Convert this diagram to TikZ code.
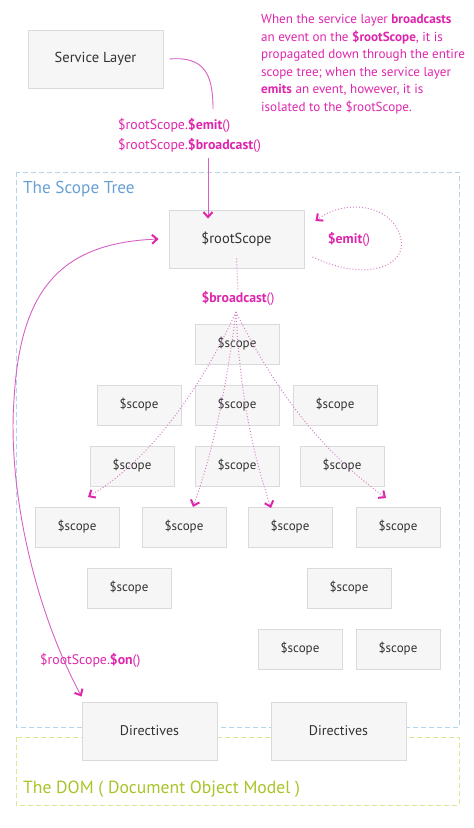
\documentclass[tikz,border=0pt]{standalone}
\usepackage{fontspec}
\setmainfont{PT Sans}
\usetikzlibrary{arrows.meta}
\definecolor{mag}{RGB}{222,38,172}
\definecolor{magline}{RGB}{214,96,196}
\definecolor{magdot}{RGB}{214,130,200}
\definecolor{boxfill}{RGB}{246,246,246}
\definecolor{boxline}{RGB}{218,218,218}
\definecolor{boxtext}{RGB}{50,50,50}
\definecolor{treeline}{RGB}{180,212,234}
\definecolor{treetext}{RGB}{104,160,212}
\definecolor{domline}{RGB}{222,230,150}
\definecolor{domtext}{RGB}{168,196,40}
\begin{document}
\begin{tikzpicture}[x=1pt,y=-1pt,
  box/.style={draw=boxline, fill=boxfill, line width=0.9pt, minimum width=84pt, minimum height=40pt, inner sep=0pt, text=boxtext, font=\fontsize{13}{15}\selectfont},
  bigbox/.style={box, minimum width=135pt, minimum height=58pt, font=\fontsize{14.5}{16}\selectfont},
  magtext/.style={text=mag, inner sep=0pt, font=\fontsize{13.8}{20}\selectfont},
  frame/.style={dashed, dash pattern=on 5pt off 3pt, line width=0.9pt},
  magtip/.style={-{Straight Barb[length=5pt,width=9pt,line width=2pt,color=mag]}},
  solidarrow/.style={draw=magline, line width=0.9pt, magtip},
  dotarrow/.style={draw=magdot, line width=1pt, dotted, magtip}]
\useasboundingbox (0,0) rectangle (474,828);
% frames
\draw[frame, draw=treeline] (16,172) rectangle (459,727);
\draw[frame, draw=domline] (16,737) rectangle (459,805);
\node[anchor=west, text=treetext, inner sep=0pt, font=\fontsize{17.2}{19}\selectfont] (treelbl) at (23,189) {The Scope Tree};
\node[anchor=west, text=domtext, inner sep=0pt, font=\fontsize{17.6}{19}\selectfont] (domlbl) at (23,789) {The DOM ( Document Object Model )};
% nodes
\node[bigbox] (svc) at (95.5,59) {Service Layer};
\node[bigbox] (root) at (236.5,239) {\$rootScope};
\node[box] (s0) at (237,344) {\$scope};
\node[box] (s1a) at (139,405) {\$scope};
\node[box] (s1b) at (237,405) {\$scope};
\node[box] (s1c) at (335,405) {\$scope};
\node[box] (s2a) at (132,466) {\$scope};
\node[box] (s2b) at (237,466) {\$scope};
\node[box] (s2c) at (342,466) {\$scope};
\node[box] (s3a) at (77,527) {\$scope};
\node[box] (s3b) at (184,527) {\$scope};
\node[box] (s3c) at (290,527) {\$scope};
\node[box] (s3d) at (398,527) {\$scope};
\node[box] (s4a) at (129,588) {\$scope};
\node[box] (s4b) at (349,588) {\$scope};
\node[box] (s5a) at (300,649) {\$scope};
\node[box] (s5b) at (398,649) {\$scope};
\node[bigbox, font=\fontsize{14}{16}\selectfont] (dir1) at (149.5,731) {Directives};
\node[bigbox, font=\fontsize{14}{16}\selectfont] (dir2) at (338.5,731) {Directives};
% texts
\node[magtext, anchor=north west, align=left, font=\fontsize{13.1}{17.6}\selectfont] (note) at (261,14)
 {When the service layer \textbf{broadcasts}\\
  an event on the \textbf{\$rootScope}, it is\\
  propagated down through the entire\\
  scope tree; when the service layer\\
  \textbf{emits} an event, however, it is\\
  isolated to the \$rootScope.};
\node[magtext, anchor=west, align=left] (calls) at (118,135)
 {\$rootScope.\textbf{\$emit}()\\ \$rootScope.\textbf{\$broadcast}()};
\node[magtext] (emitlbl) at (349,239) {\textbf{\$emit}()};
\node[magtext] (bclbl) at (238,298) {\textbf{\$broadcast}()};
\node[magtext, anchor=west] (onlbl) at (40,660) {\$rootScope.\textbf{\$on}()};
% coordinates
\coordinate (c1) at (213,109);
\coordinate (c2) at (208,158);
\coordinate (bctop) at (236,312);
\coordinate (t1) at (88,497);
\coordinate (t2) at (193,507);
\coordinate (t3) at (271,508);
\coordinate (t4) at (386,498);
% connectors
\draw[draw=magline, line width=0.9pt] ([xshift=6pt]svc.east) .. controls (205,56) and (213,75) .. (c1);
\draw[solidarrow] (c2) -- ([yshift=-9pt]root.north -| c2);
\draw[dotarrow] ([shift={(8,18)}]root.east) .. controls (372,285) and (410,262) .. (400,236)
   .. controls (392,205) and (345,198) .. ([shift={(11,-18)}]root.east);
\draw[draw=magdot, line width=1pt, dotted] ([yshift=10pt]root.south) -- (bclbl.north);
\draw[dotarrow] (bctop) .. controls (200,390) and (150,460) .. (t1);
\draw[dotarrow] (bctop) .. controls (225,400) and (210,460) .. (t2);
\draw[dotarrow] (bctop) .. controls (240,400) and (255,460) .. (t3);
\draw[dotarrow] (bctop) .. controls (275,390) and (320,450) .. (t4);
\draw[solidarrow, {Straight Barb[length=5pt,width=9pt,line width=2pt,color=mag]}-{Straight Barb[length=5pt,width=9pt,line width=2pt,color=mag]}]
  ([xshift=-10pt]root.west) .. controls (60,243) and (20,290) .. (14,400)
   .. controls (8,480) and (30,600) .. ([shift={(0,-5)}]dir1.north west);
\end{tikzpicture}
\end{document}
